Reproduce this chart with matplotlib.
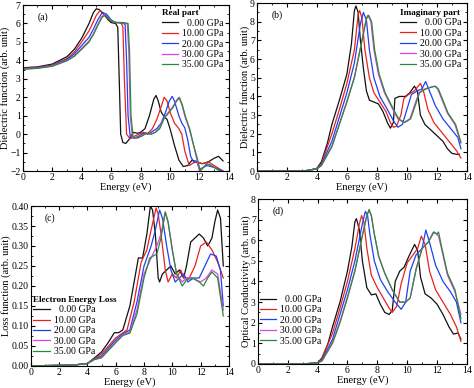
import matplotlib
matplotlib.use("Agg")
from matplotlib import pyplot as plt
from matplotlib.ticker import MultipleLocator, FormatStrFormatter

plt.rcParams['font.family'] = ['Liberation Serif', 'DejaVu Serif']
plt.rcParams['font.size'] = 7

labels = ['  0.00 GPa', '10.00 GPa', '20.00 GPa', '30.00 GPa', '35.00 GPa']
colors = ['#111111', '#e8231f', '#2040f0', '#e040e8', '#2a8a3a']

# (a) real part of the dielectric function
re_e0 = [0, 1, 2, 3, 3.5, 4, 4.5, 4.8, 5.0, 5.2, 5.5, 5.8, 6.0, 6.3, 6.45, 6.55, 6.65, 6.8, 7.0, 7.2, 7.5, 7.8, 8.0, 8.3, 8.6, 8.9, 9.05, 9.2, 9.4, 9.6, 9.8, 10.0, 10.3, 10.6, 10.9, 11.2, 11.5, 11.8, 12.2, 12.6, 13.0, 13.3, 13.6]
re_v0 = [3.6, 3.65, 3.8, 4.2, 4.6, 5.2, 6.0, 6.6, 6.8, 6.75, 6.5, 6.2, 6.05, 6.0, 5.8, 3.0, 0.0, -0.45, -0.5, -0.3, 0.1, 0.05, 0.1, 0.3, 1.0, 1.9, 2.1, 1.8, 1.2, 0.95, 0.8, 0.3, -0.6, -1.4, -1.75, -1.7, -1.4, -1.5, -1.6, -1.5, -1.3, -1.2, -1.45]
re_e1 = [0, 1, 2, 3, 3.5, 4, 4.5, 4.8, 5.0, 5.25, 5.5, 5.9, 6.2, 6.5, 6.7, 6.8, 6.9, 7.05, 7.3, 7.6, 7.9, 8.2, 8.5, 8.8, 9.1, 9.4, 9.6, 9.8, 10.0, 10.3, 10.6, 10.8, 11.0, 11.3, 11.6, 11.8, 12.2, 12.6, 13.0, 13.3, 13.6]
re_v1 = [3.57, 3.62, 3.75, 4.1, 4.45, 5.0, 5.6, 6.1, 6.45, 6.7, 6.55, 6.2, 6.05, 6.05, 6.0, 5.8, 3.0, 0.0, -0.25, -0.1, 0.0, 0.1, 0.05, 0.3, 0.8, 1.5, 2.0, 1.8, 1.2, 0.6, 0.3, 0.0, -0.9, -1.7, -1.55, -1.5, -1.6, -1.5, -1.7, -1.85, -2.0]
re_e2 = [0, 1, 2, 3, 3.5, 4, 4.5, 4.8, 5.1, 5.4, 5.7, 6.0, 6.3, 6.7, 6.95, 7.05, 7.15, 7.3, 7.6, 7.9, 8.2, 8.5, 8.8, 9.1, 9.4, 9.7, 9.95, 10.15, 10.3, 10.6, 10.8, 11.0, 11.2, 11.4, 11.6, 11.8, 12.0, 12.5, 13.0, 13.6]
re_v2 = [3.55, 3.6, 3.72, 4.05, 4.35, 4.8, 5.25, 5.7, 6.2, 6.6, 6.5, 6.2, 6.05, 6.05, 5.95, 4.0, 1.0, -0.15, -0.2, -0.1, 0.05, 0.0, 0.15, 0.3, 0.6, 1.2, 1.8, 2.05, 1.8, 1.0, 0.6, 0.35, -0.3, -1.2, -1.5, -1.45, -1.9, -1.7, -1.8, -2.0]
re_e3 = [0, 1, 2, 3, 3.5, 4, 4.5, 4.8, 5.1, 5.35, 5.55, 5.8, 6.1, 6.4, 6.8, 7.1, 7.2, 7.3, 7.45, 7.8, 8.1, 8.4, 8.7, 9.0, 9.3, 9.6, 9.9, 10.2, 10.45, 10.6, 10.8, 11.0, 11.3, 11.6, 11.8, 12.0, 12.5, 12.8, 13.4]
re_v3 = [3.53, 3.58, 3.7, 4.0, 4.25, 4.65, 5.05, 5.45, 5.95, 6.35, 6.5, 6.3, 6.1, 6.05, 6.05, 6.0, 4.5, 1.0, -0.2, -0.2, -0.05, 0.05, 0.0, 0.1, 0.35, 0.9, 1.2, 1.5, 1.85, 2.0, 1.6, 1.0, 0.3, -0.6, -1.3, -2.0, -1.6, -1.7, -2.0]
re_e4 = [0, 1, 2, 3, 3.5, 4, 4.5, 4.8, 5.1, 5.4, 5.6, 5.85, 6.1, 6.4, 6.8, 7.15, 7.25, 7.35, 7.5, 7.8, 8.1, 8.4, 8.7, 9.0, 9.3, 9.6, 9.9, 10.2, 10.45, 10.65, 10.85, 11.05, 11.35, 11.6, 11.85, 12.05, 12.5, 12.8, 13.4]
re_v4 = [3.52, 3.57, 3.68, 3.98, 4.22, 4.6, 5.0, 5.4, 5.9, 6.35, 6.45, 6.25, 6.1, 6.05, 6.05, 6.0, 4.5, 1.0, -0.2, -0.2, -0.1, 0.05, 0.0, 0.1, 0.3, 0.85, 1.15, 1.45, 1.8, 1.98, 1.55, 0.95, 0.25, -0.6, -1.3, -2.0, -1.6, -1.7, -2.0]

# (b) imaginary part
im_e0 = [0, 3.0, 3.5, 4.0, 4.3, 4.7, 5.0, 5.5, 6.0, 6.3, 6.5, 6.6, 6.75, 6.9, 7.1, 7.3, 7.5, 7.8, 8.1, 8.4, 8.7, 8.9, 9.1, 9.2, 9.5, 9.9, 10.2, 10.5, 10.7, 10.9, 11.2, 11.6, 12.0, 12.4, 12.7, 13.0, 13.3, 13.5]
im_v0 = [0, 0.0, 0.05, 0.15, 0.5, 1.5, 2.5, 3.8, 5.2, 6.8, 8.6, 8.85, 8.5, 7.0, 5.5, 4.3, 3.8, 3.7, 3.6, 3.2, 2.6, 2.3, 2.6, 3.9, 4.0, 4.0, 4.2, 4.55, 4.3, 3.0, 2.5, 2.2, 1.9, 1.6, 1.2, 0.95, 0.9, 0.9]
im_e1 = [0, 3.0, 3.5, 4.0, 4.3, 5.0, 5.5, 6.0, 6.5, 6.75, 6.85, 7.0, 7.2, 7.5, 7.8, 8.2, 8.6, 8.9, 9.1, 9.3, 9.6, 9.8, 10.1, 10.5, 10.9, 11.1, 11.4, 11.8, 12.3, 12.8, 13.3, 13.6]
im_v1 = [0, 0.0, 0.05, 0.14, 0.4, 2.0, 3.3, 4.7, 6.5, 8.4, 8.6, 8.2, 6.5, 5.0, 4.2, 3.7, 3.2, 2.6, 2.35, 2.4, 3.0, 3.9, 4.1, 4.3, 4.7, 4.3, 3.3, 2.6, 2.1, 1.6, 1.1, 0.7]
im_e2 = [0, 3.0, 3.5, 4.0, 4.3, 5.0, 5.5, 6.0, 6.5, 6.9, 7.1, 7.3, 7.5, 7.8, 8.2, 8.7, 9.1, 9.4, 9.7, 10.0, 10.3, 10.7, 11.0, 11.25, 11.5, 11.9, 12.4, 12.9, 13.4, 13.6]
im_v2 = [0, 0.0, 0.05, 0.13, 0.35, 1.6, 2.9, 4.2, 5.8, 7.9, 8.5, 8.1, 6.5, 5.0, 4.0, 3.3, 2.7, 2.35, 2.5, 3.3, 4.1, 4.3, 4.4, 4.8, 4.3, 3.5, 2.8, 2.3, 1.8, 1.2]
im_e3 = [0, 3.0, 3.5, 4.0, 4.3, 5.0, 5.5, 6.0, 6.5, 7.0, 7.3, 7.4, 7.6, 7.8, 8.1, 8.5, 9.0, 9.4, 9.8, 10.2, 10.5, 10.8, 11.2, 11.6, 11.85, 12.05, 12.3, 12.7, 13.2, 13.6]
im_v3 = [0, 0.0, 0.05, 0.12, 0.3, 1.35, 2.55, 3.75, 5.05, 7.0, 8.2, 8.35, 8.0, 6.5, 5.2, 4.2, 3.4, 2.8, 2.6, 2.8, 3.5, 4.2, 4.4, 4.5, 4.55, 4.4, 3.9, 3.1, 2.5, 1.5]
im_e4 = [0, 3.0, 3.5, 4.0, 4.3, 5.0, 5.5, 6.0, 6.5, 7.0, 7.3, 7.45, 7.65, 7.85, 8.15, 8.55, 9.05, 9.45, 9.85, 10.25, 10.55, 10.85, 11.25, 11.65, 11.9, 12.1, 12.35, 12.75, 13.25, 13.6]
im_v4 = [0, 0.0, 0.05, 0.12, 0.3, 1.3, 2.5, 3.7, 5.0, 6.95, 8.15, 8.35, 8.0, 6.5, 5.2, 4.2, 3.4, 2.8, 2.6, 2.8, 3.5, 4.2, 4.4, 4.5, 4.55, 4.4, 3.9, 3.1, 2.5, 1.55]

# (c) electron energy loss
el_e0 = [0, 3.0, 4.0, 4.5, 5.0, 5.5, 5.9, 6.2, 6.5, 7.0, 7.5, 7.6, 7.9, 8.2, 8.45, 8.6, 8.8, 9.0, 9.1, 9.3, 9.6, 9.9, 10.2, 10.5, 10.8, 11.0, 11.3, 11.6, 11.9, 12.2, 12.5, 12.8, 13.0, 13.2, 13.4, 13.6]
el_v0 = [0, 0.002, 0.006, 0.02, 0.035, 0.06, 0.083, 0.083, 0.09, 0.15, 0.25, 0.27, 0.27, 0.33, 0.40, 0.39, 0.33, 0.22, 0.21, 0.23, 0.24, 0.25, 0.23, 0.24, 0.22, 0.25, 0.31, 0.32, 0.33, 0.32, 0.30, 0.32, 0.36, 0.39, 0.37, 0.25]
el_e1 = [0, 3.0, 4.0, 4.5, 5.0, 5.5, 6.0, 6.4, 6.8, 7.3, 7.8, 8.2, 8.5, 8.85, 9.0, 9.2, 9.5, 9.7, 10.0, 10.3, 10.6, 10.8, 11.2, 11.6, 12.0, 12.4, 12.8, 13.2, 13.6]
el_v1 = [0, 0.002, 0.006, 0.018, 0.03, 0.05, 0.07, 0.08, 0.09, 0.16, 0.26, 0.29, 0.34, 0.395, 0.38, 0.33, 0.24, 0.21, 0.23, 0.22, 0.24, 0.22, 0.22, 0.25, 0.30, 0.31, 0.29, 0.26, 0.22]
el_e2 = [0, 3.0, 4.0, 4.5, 5.0, 5.5, 6.0, 6.5, 7.0, 7.5, 8.0, 8.5, 8.8, 9.1, 9.3, 9.6, 9.9, 10.2, 10.5, 10.8, 11.1, 11.5, 11.9, 12.3, 12.7, 13.1, 13.4, 13.6]
el_v2 = [0, 0.002, 0.006, 0.017, 0.025, 0.045, 0.065, 0.08, 0.09, 0.16, 0.25, 0.30, 0.34, 0.39, 0.37, 0.30, 0.24, 0.21, 0.22, 0.23, 0.21, 0.22, 0.22, 0.25, 0.28, 0.275, 0.24, 0.15]
el_e3 = [0, 3.0, 4.0, 4.5, 5.0, 6.0, 6.5, 7.0, 7.5, 8.0, 8.5, 8.9, 9.2, 9.5, 9.7, 10.0, 10.3, 10.7, 11.0, 11.4, 12.0, 12.4, 12.8, 13.2, 13.6]
el_v3 = [0, 0.002, 0.006, 0.016, 0.022, 0.06, 0.078, 0.085, 0.14, 0.23, 0.27, 0.30, 0.33, 0.385, 0.36, 0.29, 0.23, 0.21, 0.22, 0.22, 0.21, 0.22, 0.24, 0.23, 0.14]
el_e4 = [0, 3.0, 4.0, 4.5, 5.0, 6.0, 6.5, 7.0, 7.5, 8.0, 8.4, 8.9, 9.2, 9.5, 9.7, 10.0, 10.3, 10.7, 11.0, 11.4, 11.9, 12.2, 12.5, 12.8, 13.2, 13.6]
el_v4 = [0, 0.002, 0.006, 0.016, 0.02, 0.058, 0.076, 0.082, 0.13, 0.22, 0.27, 0.28, 0.32, 0.385, 0.36, 0.29, 0.23, 0.20, 0.215, 0.22, 0.21, 0.20, 0.22, 0.235, 0.22, 0.125]

# (d) optical conductivity
oc_e0 = [0, 3.0, 4.0, 4.3, 4.7, 5.0, 5.5, 6.0, 6.3, 6.5, 6.6, 6.8, 7.0, 7.3, 7.6, 7.9, 8.2, 8.5, 8.8, 9.0, 9.2, 9.5, 9.8, 10.1, 10.5, 10.7, 10.9, 11.2, 11.6, 12.0, 12.4, 12.8, 13.1, 13.4, 13.6]
oc_v0 = [0, 0.0, 0.05, 0.3, 1.0, 1.8, 3.0, 4.5, 5.7, 6.9, 7.05, 6.5, 5.0, 3.7, 3.35, 3.4, 2.9, 2.5, 2.4, 2.6, 4.0, 4.5, 4.7, 5.2, 5.8, 5.5, 4.2, 3.4, 3.2, 2.9, 2.4, 1.8, 1.45, 1.5, 1.2]
oc_e1 = [0, 3.0, 4.0, 4.3, 5.0, 5.5, 6.0, 6.5, 6.8, 6.95, 7.1, 7.3, 7.6, 8.0, 8.4, 8.8, 9.0, 9.3, 9.6, 10.0, 10.3, 10.7, 10.95, 11.2, 11.5, 11.9, 12.4, 12.9, 13.3, 13.6]
oc_v1 = [0, 0.0, 0.05, 0.25, 1.5, 2.7, 4.0, 5.6, 6.8, 7.2, 6.9, 5.6, 4.3, 3.7, 3.2, 2.7, 2.5, 2.8, 3.9, 4.9, 5.2, 5.6, 6.2, 5.8, 4.5, 3.6, 3.0, 2.4, 1.8, 1.1]
oc_e2 = [0, 3.0, 4.0, 4.3, 5.0, 5.5, 6.0, 6.5, 7.0, 7.2, 7.35, 7.5, 7.8, 8.2, 8.7, 9.2, 9.6, 9.9, 10.2, 10.6, 11.0, 11.25, 11.5, 11.9, 12.4, 12.9, 13.3, 13.6]
oc_v2 = [0, 0.0, 0.05, 0.2, 1.2, 2.4, 3.6, 5.0, 6.8, 7.4, 7.2, 6.3, 5.0, 4.1, 3.5, 3.0, 2.65, 3.0, 4.5, 5.3, 5.6, 6.5, 5.9, 4.8, 4.0, 3.5, 3.0, 2.0]
oc_e3 = [0, 3.0, 4.0, 4.3, 5.0, 5.5, 6.0, 6.5, 7.0, 7.3, 7.45, 7.6, 7.8, 8.1, 8.5, 9.0, 9.5, 9.9, 10.2, 10.6, 11.0, 11.4, 11.75, 11.95, 12.1, 12.3, 12.7, 13.2, 13.6]
oc_v3 = [0, 0.0, 0.05, 0.16, 1.05, 2.05, 3.25, 4.55, 6.25, 7.2, 7.45, 7.2, 6.3, 5.2, 4.4, 3.6, 3.0, 3.0, 3.2, 4.6, 5.6, 5.9, 6.4, 6.3, 6.2, 5.6, 4.3, 3.5, 2.4]
oc_e4 = [0, 3.0, 4.0, 4.3, 5.0, 5.5, 6.0, 6.5, 7.0, 7.3, 7.45, 7.6, 7.8, 8.1, 8.5, 9.0, 9.5, 9.9, 10.2, 10.6, 11.0, 11.4, 11.8, 12.0, 12.1, 12.3, 12.7, 13.2, 13.6]
oc_v4 = [0, 0.0, 0.05, 0.15, 1.0, 2.0, 3.2, 4.5, 6.2, 7.2, 7.5, 7.2, 6.3, 5.2, 4.4, 3.6, 3.0, 3.0, 3.2, 4.6, 5.6, 5.9, 6.4, 6.3, 6.4, 5.7, 4.4, 3.6, 2.2]

panels = [
    ([0.048, 0.559, 0.435, 0.428], [(re_e0, re_v0), (re_e1, re_v1), (re_e2, re_v2), (re_e3, re_v3), (re_e4, re_v4)],
     (-2, 7), 1, 'Dielectric function (arb. unit)', '(a)', 'Real part', 'upper right', (0.975, 0.975)),
    ([0.542, 0.559, 0.443, 0.433], [(im_e0, im_v0), (im_e1, im_v1), (im_e2, im_v2), (im_e3, im_v3), (im_e4, im_v4)],
     (0, 9), 1, 'Dielectric function (arb. unit)', '(b)', 'Imaginary part', 'upper right', (0.975, 0.965)),
    ([0.065, 0.057, 0.418, 0.412], [(el_e0, el_v0), (el_e1, el_v1), (el_e2, el_v2), (el_e3, el_v3), (el_e4, el_v4)],
     (0, 0.40), 0.05, 'Loss function (arb. unit)', '(c)', 'Electron Energy Loss', 'lower left', (0.012, 0.06)),
    ([0.544, 0.062, 0.441, 0.425], [(oc_e0, oc_v0), (oc_e1, oc_v1), (oc_e2, oc_v2), (oc_e3, oc_v3), (oc_e4, oc_v4)],
     (0, 8), 1, 'Optical Conductivity (arb. unit)', '(d)', None, 'lower left', (0.01, 0.11)),
]

fig = plt.figure(figsize=(4.74, 3.88), dpi=100)

for rect, series, ylim, ystep, ylabel, tag, title, loc, anchor in panels:
    ax = fig.add_axes(rect)
    for (e, v), c, lab in zip(series, colors, labels):
        ax.plot(e, v, color=c, lw=0.9, label=lab)
    ax.set_xlim(0, 14)
    ax.set_ylim(*ylim)
    ax.xaxis.set_major_locator(MultipleLocator(2))
    ax.xaxis.set_minor_locator(MultipleLocator(1))
    ax.yaxis.set_major_locator(MultipleLocator(ystep))
    ax.yaxis.set_minor_locator(MultipleLocator(ystep / 2))
    ax.tick_params(which='both', direction='in', top=True, right=True, labelsize=7, pad=1.5)
    ax.tick_params(which='major', length=3)
    ax.tick_params(which='minor', length=1.5)
    if ystep < 1:
        ax.yaxis.set_major_formatter(FormatStrFormatter('%.2f'))
    ax.set_xlabel('Energy (eV)', fontsize=7.5, labelpad=0)
    ax.set_ylabel(ylabel, fontsize=7.5, labelpad=0)
    ax.text(0.07, 0.91, tag, transform=ax.transAxes, fontsize=7)
    leg = ax.legend(loc=loc, bbox_to_anchor=anchor, frameon=False, fontsize=7, borderpad=0,
                    borderaxespad=0, handlelength=1.7, labelspacing=0.15, handletextpad=0.4,
                    title=title)
    if title:
        leg.get_title().set_fontweight('bold')
        leg.get_title().set_fontsize(6.6)
        leg._legend_box.align = 'left'

fig.savefig('out.png', dpi=100)
